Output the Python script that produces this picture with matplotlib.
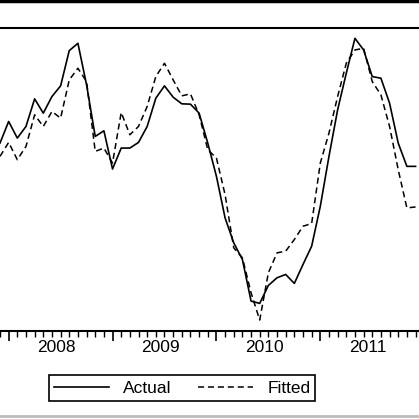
import matplotlib
matplotlib.use("Agg")
import matplotlib.pyplot as plt
import numpy as np

plt.rcParams['font.family'] = ['Liberation Sans', 'DejaVu Sans']

months = np.arange(-1, 48)  # month index from Jan 2008 = 0
actual = [430, 365, 415, 380, 297, 340, 290, 258, 152, 130, 255, 410, 393, 508, 445, 445,
          428, 380, 295, 258, 292, 312, 313, 340, 430, 530, 655, 730, 780, 905, 912, 858,
          835, 825, 852, 795, 740, 620, 470, 330, 220, 115, 150, 230, 235, 310, 430, 500, 500]
fitted = [470, 428, 480, 440, 345, 380, 335, 355, 240, 205, 245, 455, 445, 490, 338, 405,
          380, 320, 230, 190, 240, 288, 282, 345, 450, 475, 585, 745, 775, 880, 962, 820,
          760, 755, 720, 680, 672, 490, 400, 290, 190, 150, 145, 245, 285, 380, 510, 625, 622]
years = ['2008', '2009', '2010', '2011']

fig = plt.figure(figsize=(4.19, 4.19), dpi=100)
W = H = 419.0
ax = fig.add_axes([0, 1 - 331 / H, 1, (331 - 28) / H])
ax.plot(months, actual, color='black', lw=1.2, label='Actual')
ax.plot(months, fitted, color='black', lw=1.1, ls=(0, (4, 2.5)), label='Fitted')
ax.set_xlim(-0.92, 47.4)
ax.set_ylim(995, 84)
ax.set_yticks([])
for s in ['left', 'right']:
    ax.spines[s].set_visible(False)
ax.spines['top'].set_linewidth(1.5)
ax.spines['bottom'].set_linewidth(1.5)
ax.set_xticks([0, 12, 24, 36])
ax.set_xticklabels([])
ax.set_xticks(np.arange(-1, 48), minor=True)
ax.tick_params(axis='x', which='major', length=7, width=1.2, direction='out')
ax.tick_params(axis='x', which='minor', length=4, width=1, direction='out')
for k, y in enumerate(years):
    ax.text(5.5 + 12 * k, -0.055, y, transform=ax.get_xaxis_transform(),
            ha='center', va='center', fontsize=12.5)

fig.add_artist(plt.Line2D([0, 1], [1 - 1 / H, 1 - 1 / H], color='black', lw=2.5))
fig.add_artist(plt.Line2D([0, 1], [1 - 416 / H, 1 - 416 / H], color='#bbbbbb', lw=2))

leg = fig.legend(loc='center', bbox_to_anchor=(182 / W, 1 - 388 / H), ncol=2,
                 fancybox=False, edgecolor='black', fontsize=12.5, handlelength=3.2,
                 columnspacing=1.5, borderpad=0.3, framealpha=1)
leg.get_frame().set_linewidth(1.2)

fig.savefig('out.png', dpi=100)
